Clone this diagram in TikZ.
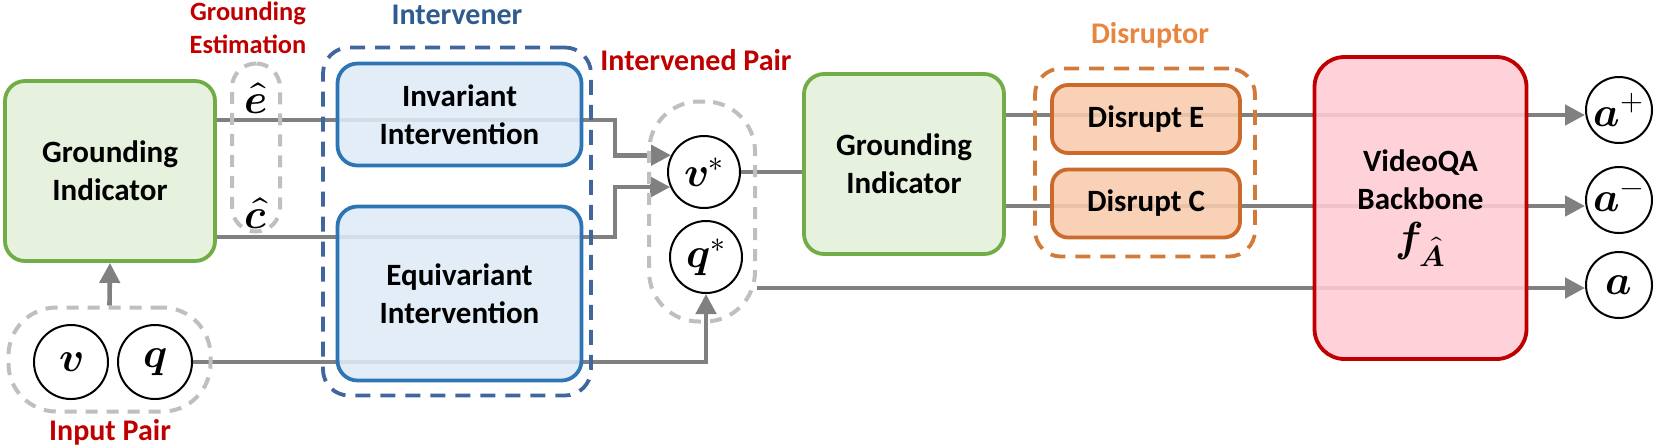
\documentclass[tikz,border=0pt]{standalone}
\usepackage{fontspec}
\usepackage{unicode-math}
\setmainfont{Carlito}
\setmathfont{Latin Modern Math}
\usetikzlibrary{arrows.meta,backgrounds}
\definecolor{gborder}{HTML}{70AD47}
\definecolor{gfill}{HTML}{E2F0D9}
\definecolor{bborder}{HTML}{2E75B6}
\definecolor{bfill}{HTML}{DEEBF7}
\definecolor{bdash}{HTML}{41669E}
\definecolor{blabel}{HTML}{2F5C8F}
\definecolor{oborder}{HTML}{CC6A2C}
\definecolor{ofill}{HTML}{F8CBAD}
\definecolor{odash}{HTML}{D27A3A}
\definecolor{olabel}{HTML}{E8863F}
\definecolor{rborder}{HTML}{C00000}
\definecolor{rfill}{HTML}{FFCCD4}
\definecolor{rlabel}{HTML}{C00000}
\definecolor{ldash}{HTML}{BFBFBF}
\definecolor{conncol}{HTML}{808080}
\tikzset{
  box/.style={rounded corners=10pt, line width=1.9pt, align=center, inner sep=0pt,
    fill opacity=0.88, text opacity=1, text=black,
    font=\fontsize{15.5}{19}\selectfont\bfseries},
  greenbox/.style={box, draw=gborder, fill=gfill},
  bluebox/.style={box, draw=bborder, fill=bfill},
  orangebox/.style={box, draw=oborder, fill=ofill, rounded corners=8pt},
  redbox/.style={box, draw=rborder, fill=rfill, rounded corners=15pt},
  gdash/.style={draw=ldash, line width=2pt, dash pattern=on 6pt off 4.5pt, inner sep=0pt},
  cdash/.style={line width=1.9pt, dash pattern=on 7.5pt off 5pt, inner sep=0pt, rounded corners=13pt},
  circ/.style={circle, draw=black, line width=1pt, inner sep=0pt, fill=white,
    font=\fontsize{21}{24}\selectfont},
  mlbl/.style={inner sep=0pt, font=\fontsize{21}{24}\selectfont},
  lbl/.style={inner sep=0pt, align=center, font=\fontsize{15}{18}\selectfont\bfseries},
  conn/.style={draw=conncol, line width=2.3pt},
  arr/.style={conn, -{Triangle[length=10pt,width=10pt]}}
}
\begin{document}
\begin{tikzpicture}[x=0.5pt, y=-0.5pt]
\useasboundingbox (0,0) rectangle (1659,447);

% left grounding indicator
\node[greenbox, minimum width=105pt, minimum height=90pt] (gi1) at (110,171) {Grounding\\Indicator};
\node[gdash, minimum width=24pt, minimum height=84pt, rounded corners=12pt] (gest) at (256,147.5) {};
\node[mlbl] (ehat) at (256,98) {$\hat{\symbfit{e}}$};
\node[mlbl] (chat) at (256,213) {$\hat{\symbfit{c}}$};
\node[lbl, text=rlabel, font=\fontsize{13.2}{16.5}\selectfont\bfseries] (gestlbl) at (248,28) {Grounding\\Estimation};

% input pair
\node[gdash, minimum width=101pt, minimum height=52pt, rounded corners=24pt] (inpair) at (109.5,359.5) {};
\node[circ, minimum size=37pt] (v) at (71,362) {$\symbfit{v}$};
\node[circ, minimum size=37pt] (q) at (155,362) {$\symbfit{q}$};
\node[lbl, text=rlabel] (inlbl) at (110,432) {Input Pair};

% intervener
\node[cdash, draw=bdash, minimum width=134pt, minimum height=174pt] (intv) at (457,221.5) {};
\node[lbl, text=blabel] (intvlbl) at (457,15) {Intervener};
\node[bluebox, minimum width=122pt, minimum height=51pt] (inv) at (459.5,114.5) {Invariant\\Intervention};
\node[bluebox, minimum width=122pt, minimum height=87pt] (equ) at (459.5,293.5) {Equivariant\\Intervention};

% intervened pair
\node[gdash, minimum width=53pt, minimum height=110pt, rounded corners=25pt] (ipair) at (702,211.5) {};
\node[circ, minimum size=36pt] (vstar) at (704,172) {$\symbfit{v}^{*}$};
\node[circ, minimum size=36pt] (qstar) at (706,257) {$\symbfit{q}^{*}$};
\node[lbl, text=rlabel] (iplbl) at (696,60) {Intervened Pair};

% second grounding indicator
\node[greenbox, minimum width=100pt, minimum height=90pt] (gi2) at (904,164) {Grounding\\Indicator};

% disruptor
\node[cdash, draw=odash, minimum width=110pt, minimum height=94pt] (disr) at (1145,162.5) {};
\node[lbl, text=olabel] (disrlbl) at (1150,35) {Disruptor};
\node[orangebox, minimum width=94pt, minimum height=34pt] (de) at (1146,119) {Disrupt E};
\node[orangebox, minimum width=94pt, minimum height=34pt] (dc) at (1146,203.5) {Disrupt C};

% backbone
\node[redbox, minimum width=106pt, minimum height=151pt] (vqa) at (1420.5,208) {VideoQA\\Backbone\\[2pt]{\fontsize{21}{24}\selectfont$\symbfit{f}_{\hat{\symbfit{A}}}$}};

% outputs
\node[circ, minimum size=33pt] (aplus) at (1619,110) {$\symbfit{a}^{+}$};
\node[circ, minimum size=33pt] (aminus) at (1619,200) {$\symbfit{a}^{-}$};
\node[circ, minimum size=33pt] (aa) at (1619,285) {$\symbfit{a}$};

\coordinate (k1) at (615,120);
\coordinate (k2) at (615,237);
\coordinate (ye) at (0,115);
\coordinate (yc) at (0,206);
\coordinate (ya) at (0,288);

\begin{scope}[on background layer]
  \draw[arr] (gi1.east |- k1) -- (k1) -- (k1 |- vstar.153) -- (vstar.153);
  \draw[arr] (gi1.east |- k2) -- (k2) -- (k2 |- vstar.204) -- (vstar.204);
  \draw[arr] (q.east) -- (qstar.south |- q.east) -- (qstar.south);
  \draw[arr] (inpair.north) -- (gi1.south);
  \draw[conn] (vstar.east) -- (gi2.west |- vstar.east);
  \draw[arr] (ipair.east |- ya) -- (aa.west |- ya);
  \draw[arr] (gi2.east |- ye) -- (aplus.west |- ye);
  \draw[arr] (gi2.east |- yc) -- (aminus.west |- yc);
\end{scope}
\end{tikzpicture}
\end{document}
